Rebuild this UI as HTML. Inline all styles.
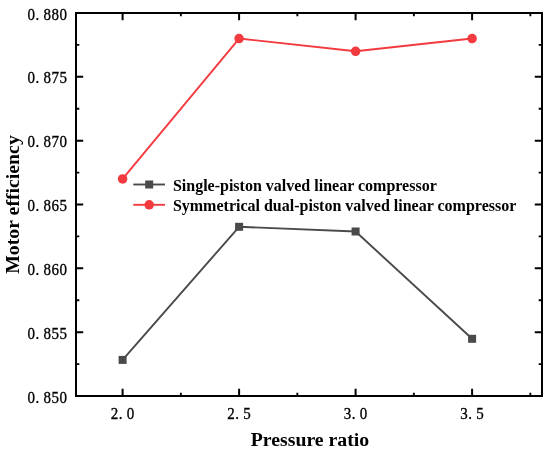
<!DOCTYPE html>
<html><head><meta charset="utf-8">
<style>
html,body{margin:0;padding:0;background:#fff;}
body{width:550px;height:451px;overflow:hidden;}
svg{display:block;}
.tl{font-family:"Liberation Serif","Noto Serif CJK SC",serif;font-size:17.2px;fill:#000;stroke:#000;stroke-width:0.35px;}
.tt{font-family:"Liberation Serif",serif;font-weight:bold;font-size:19.8px;fill:#000;}
.lg{font-family:"Liberation Serif",serif;font-weight:bold;font-size:16px;fill:#000;}
</style></head>
<body>
<svg width="550" height="451" viewBox="0 0 550 451">
<rect width="550" height="451" fill="#fff"/>
<polyline points="122.6,359.9 239.1,226.8 355.6,231.5 472.1,338.8" fill="none" stroke="#4A4A4A" stroke-width="1.9" stroke-linejoin="round"/>
<g fill="#4A4A4A">
<rect x="118.6" y="355.9" width="8.0" height="8.0"/>
<rect x="235.1" y="222.8" width="8.0" height="8.0"/>
<rect x="351.6" y="227.5" width="8.0" height="8.0"/>
<rect x="468.1" y="334.8" width="8.0" height="8.0"/>
</g>
<polyline points="122.6,178.97 239.1,38.53 355.6,51.3 472.1,38.53" fill="none" stroke="#F23A3F" stroke-width="1.9" stroke-linejoin="round"/>
<g fill="#F23A3F">
<circle cx="122.6" cy="178.97" r="4.75"/>
<circle cx="239.1" cy="38.53" r="4.75"/>
<circle cx="355.6" cy="51.3" r="4.75"/>
<circle cx="472.1" cy="38.53" r="4.75"/>
</g>
<rect x="76" y="13" width="466" height="383" fill="none" stroke="#000" stroke-width="2"/>
<path d="M122.6 396V388.8 M122.6 13V20.2 M239.1 396V388.8 M239.1 13V20.2 M355.6 396V388.8 M355.6 13V20.2 M472.1 396V388.8 M472.1 13V20.2 M76 332.17H83.2 M542 332.17H534.8 M76 268.33H83.2 M542 268.33H534.8 M76 204.5H83.2 M542 204.5H534.8 M76 140.67H83.2 M542 140.67H534.8 M76 76.83H83.2 M542 76.83H534.8" stroke="#000" stroke-width="2"/>
<path d="M180.85 396V392.7 M180.85 13V16.3 M297.35 396V392.7 M297.35 13V16.3 M413.85 396V392.7 M413.85 13V16.3 M530.35 396V392.7 M530.35 13V16.3 M76 364.08H79.3 M542 364.08H538.7 M76 300.25H79.3 M542 300.25H538.7 M76 236.42H79.3 M542 236.42H538.7 M76 172.58H79.3 M542 172.58H538.7 M76 108.75H79.3 M542 108.75H538.7 M76 44.92H79.3 M542 44.92H538.7" stroke="#000" stroke-width="1.9"/>
<g class="tl">
<text x="31.72 40.86 50 59.14 68.28" y="19.6" transform="scale(0.87,1)">0.880</text>
<text x="31.72 40.86 50 59.14 68.28" y="83.43" transform="scale(0.87,1)">0.875</text>
<text x="31.72 40.86 50 59.14 68.28" y="147.27" transform="scale(0.87,1)">0.870</text>
<text x="31.72 40.86 50 59.14 68.28" y="211.1" transform="scale(0.87,1)">0.865</text>
<text x="31.72 40.86 50 59.14 68.28" y="274.93" transform="scale(0.87,1)">0.860</text>
<text x="31.72 40.86 50 59.14 68.28" y="338.77" transform="scale(0.87,1)">0.855</text>
<text x="31.72 40.86 50 59.14 68.28" y="402.6" transform="scale(0.87,1)">0.850</text>
<text x="127.36 136.49 145.63" y="418.7" transform="scale(0.87,1)">2.0</text>
<text x="261.26 270.4 279.54" y="418.7" transform="scale(0.87,1)">2.5</text>
<text x="395.17 404.31 413.45" y="418.7" transform="scale(0.87,1)">3.0</text>
<text x="529.08 538.22 547.36" y="418.7" transform="scale(0.87,1)">3.5</text>
</g>
<text class="tt" x="310" y="445.8" text-anchor="middle">Pressure ratio</text>
<text class="tt" transform="translate(19,204.5) rotate(-90)" text-anchor="middle">Motor efficiency</text>
<line x1="133.3" y1="184.5" x2="165" y2="184.5" stroke="#4A4A4A" stroke-width="1.9"/>
<rect x="145.2" y="180.5" width="8.0" height="8.0" fill="#4A4A4A"/>
<line x1="133.3" y1="204.8" x2="165" y2="204.8" stroke="#F23A3F" stroke-width="1.9"/>
<circle cx="149.2" cy="204.8" r="4.75" fill="#F23A3F"/>
<text class="lg" x="172.9" y="190.9">Single-piston valved linear compressor</text>
<text class="lg" x="172.9" y="210.6">Symmetrical dual-piston valved linear compressor</text>
</svg>
</body></html>
